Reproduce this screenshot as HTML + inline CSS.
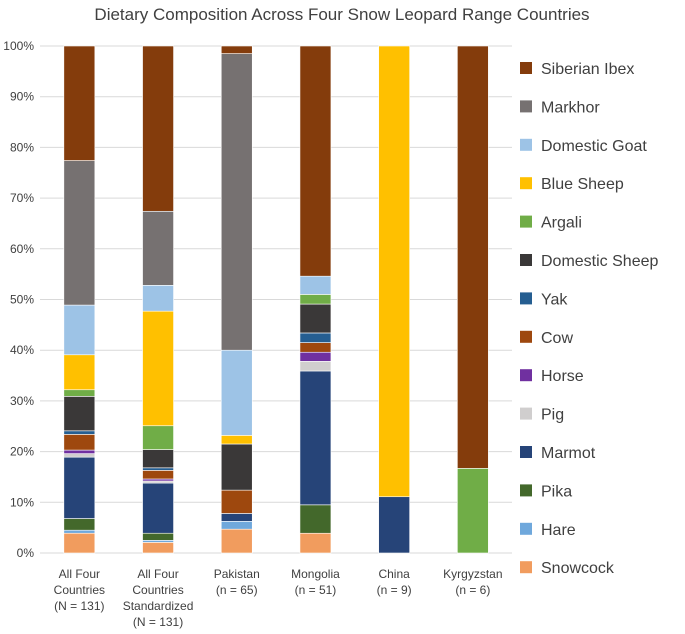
<!DOCTYPE html>
<html><head><meta charset="utf-8"><style>
body{margin:0;background:#fff;font-family:"Liberation Sans",sans-serif;}
svg text{font-family:"Liberation Sans",sans-serif;fill:#404040;}
</style></head><body>
<svg id="chart" width="685" height="629" xmlns="http://www.w3.org/2000/svg">
<text x="342" y="20" text-anchor="middle" font-size="17">Dietary Composition Across Four Snow Leopard Range Countries</text>
<g id="grid"></g><g id="bars"></g><g id="xlabels"></g><g id="legend"></g>
</svg>
<script>
const categories=[["All Four","Countries","(N = 131)"],["All Four","Countries","Standardized","(N = 131)"],["Pakistan","(n = 65)"],["Mongolia","(n = 51)"],["China","(n = 9)"],["Kyrgyzstan","(n = 6)"]];
const seriesNames=["Snowcock","Hare","Pika","Marmot","Pig","Horse","Cow","Yak","Domestic Sheep","Argali","Blue Sheep","Domestic Goat","Markhor","Siberian Ibex"];
const seriesColors=["#F19C5E","#6FA8DC","#43682B","#264478","#D0CECE","#7030A0","#9E480E","#255E91","#3A3838","#70AD47","#FFC000","#9DC3E6","#767171","#843C0C"];
const snowcock=[3.9,2.1,4.7,3.9,0,0];
const hare=[0.6,0.4,1.55,0,0,0];
const pika=[2.3,1.4,0,5.6,0,0];
const marmot=[12.1,9.9,1.55,26.4,11.1,0];
const pig=[0.7,0.4,0,1.9,0,0];
const horse=[0.7,0.4,0,1.8,0,0];
const cow=[3.1,1.7,4.6,1.9,0,0];
const yak=[0.7,0.5,0,1.9,0,0];
const domesticSheep=[6.8,3.6,9.1,5.7,0,0];
const argali=[1.3,4.7,0,1.9,0,16.7];
const blueSheep=[6.9,22.6,1.7,0,88.9,0];
const domesticGoat=[9.8,5.1,16.8,3.6,0,0];
const markhor=[28.5,14.6,58.5,0,0,0];
const siberianIbex=[22.6,32.6,1.5,45.4,0,83.3];
const series=[snowcock,hare,pika,marmot,pig,horse,cow,yak,domesticSheep,argali,blueSheep,domesticGoat,markhor,siberianIbex];
const yTicks=[0,10,20,30,40,50,60,70,80,90,100];
const NS="http://www.w3.org/2000/svg";
const y0=553,yTop=46,x0=40,step=78.7,bw=31;
const yScale=v=>y0-(v/100)*(y0-yTop);
const xScale=i=>x0+step*i+step/2;
function mk(t,a,p){const e=document.createElementNS(NS,t);for(const k in a)e.setAttribute(k,a[k]);p.appendChild(e);return e;}
const grid=document.getElementById('grid');
yTicks.forEach(t=>{
 const l=mk('line',{x1:40,x2:512,y1:yScale(t),y2:yScale(t),stroke:'#d9d9d9','stroke-width':1},grid);
 
 
 const tx=mk('text',{x:34,y:yScale(t)+4,'text-anchor':'end','font-size':12},grid);tx.textContent=t+'%';
 
 
});
const bars=document.getElementById('bars');
categories.forEach((c,i)=>{
 let cum=0;
 series.forEach((s,j)=>{
  const v=s[i];if(!v)return;
  const r=mk('rect',{x:xScale(i)-bw/2,y:yScale(cum+v),width:bw,height:yScale(cum)-yScale(cum+v),fill:seriesColors[j],stroke:'#fff','stroke-width':0.6},bars);
  
  
  cum+=v;
 });
 const g=document.getElementById('xlabels');
 c.forEach((ln,k)=>{
  const t=mk('text',{x:xScale(i),y:578+k*16,'text-anchor':'middle','font-size':12},g);t.textContent=ln;
  
  
 });
});
const lg=document.getElementById('legend');
for(let j=seriesNames.length-1;j>=0;j--){
 const k=seriesNames.length-1-j;const yy=68+k*38.4;
 const r=mk('rect',{x:520,y:yy-6,width:12,height:12,fill:seriesColors[j]},lg);
 
 
 const t=mk('text',{x:541,y:yy+6,'font-size':16},lg);t.textContent=seriesNames[j];
 
 
}
</script>
</body></html>
